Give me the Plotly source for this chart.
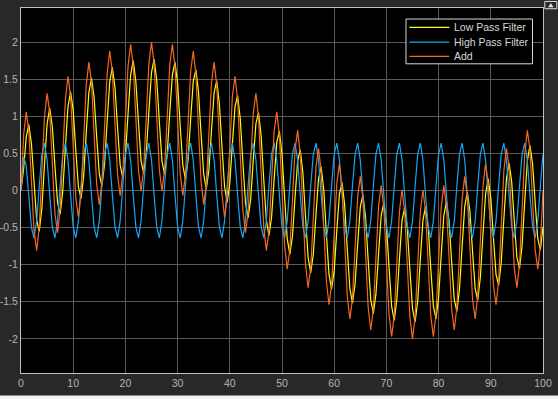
import plotly.graph_objects as go

# ---- data read from the scope (sample clock 0.5 s) ----
time_s = [i * 0.5 for i in range(201)]

low_pass = [
    0.00, 0.29, 0.72, 0.89, 0.63, 0.09, -0.40, -0.55,
    -0.24, 0.35, 0.90, 1.11, 0.86, 0.33, -0.16, -0.32,
    -0.01, 0.58, 1.13, 1.33, 1.08, 0.54, 0.05, -0.11,
    0.19, 0.78, 1.32, 1.52, 1.26, 0.72, 0.22, 0.06,
    0.35, 0.93, 1.47, 1.66, 1.39, 0.85, 0.34, 0.17,
    0.46, 1.03, 1.56, 1.75, 1.47, 0.92, 0.40, 0.23,
    0.51, 1.07, 1.59, 1.77, 1.49, 0.93, 0.40, 0.22,
    0.49, 1.05, 1.56, 1.73, 1.44, 0.87, 0.34, 0.15,
    0.41, 0.96, 1.47, 1.63, 1.33, 0.76, 0.22, 0.02,
    0.28, 0.82, 1.32, 1.48, 1.17, 0.59, 0.05, -0.16,
    0.10, 0.63, 1.13, 1.28, 0.97, 0.38, -0.16, -0.37,
    -0.12, 0.41, 0.90, 1.05, 0.74, 0.15, -0.40, -0.61,
    -0.36, 0.16, 0.65, 0.80, 0.49, -0.10, -0.65, -0.86,
    -0.62, -0.09, 0.40, 0.55, 0.24, -0.35, -0.90, -1.11,
    -0.86, -0.33, 0.16, 0.32, 0.01, -0.58, -1.13, -1.33,
    -1.08, -0.54, -0.05, 0.11, -0.19, -0.78, -1.32, -1.52,
    -1.26, -0.72, -0.22, -0.06, -0.35, -0.93, -1.47, -1.66,
    -1.39, -0.85, -0.34, -0.17, -0.46, -1.03, -1.56, -1.75,
    -1.47, -0.92, -0.40, -0.23, -0.51, -1.07, -1.59, -1.77,
    -1.49, -0.93, -0.40, -0.22, -0.49, -1.05, -1.56, -1.73,
    -1.44, -0.87, -0.34, -0.15, -0.41, -0.96, -1.47, -1.63,
    -1.33, -0.76, -0.22, -0.02, -0.28, -0.82, -1.32, -1.48,
    -1.17, -0.59, -0.05, 0.16, -0.10, -0.63, -1.13, -1.28,
    -0.97, -0.38, 0.16, 0.37, 0.12, -0.41, -0.90, -1.05,
    -0.74, -0.15, 0.40, 0.61, 0.36, -0.16, -0.65, -0.80,
    -0.49,
]

high_pass = [
    0.00, 0.45, 0.34, -0.09, -0.50, -0.64, -0.41, 0.06,
    0.49, 0.64, 0.41, -0.06, -0.49, -0.64, -0.41, 0.06,
    0.49, 0.64, 0.41, -0.06, -0.49, -0.64, -0.41, 0.06,
    0.49, 0.64, 0.41, -0.06, -0.49, -0.64, -0.41, 0.06,
    0.49, 0.64, 0.41, -0.06, -0.49, -0.64, -0.41, 0.06,
    0.49, 0.64, 0.41, -0.06, -0.49, -0.64, -0.41, 0.06,
    0.49, 0.64, 0.41, -0.06, -0.49, -0.64, -0.41, 0.06,
    0.49, 0.64, 0.41, -0.06, -0.49, -0.64, -0.41, 0.06,
    0.49, 0.64, 0.41, -0.06, -0.49, -0.64, -0.41, 0.06,
    0.49, 0.64, 0.41, -0.06, -0.49, -0.64, -0.41, 0.06,
    0.49, 0.64, 0.41, -0.06, -0.49, -0.64, -0.41, 0.06,
    0.49, 0.64, 0.41, -0.06, -0.49, -0.64, -0.41, 0.06,
    0.49, 0.64, 0.41, -0.06, -0.49, -0.64, -0.41, 0.06,
    0.49, 0.64, 0.41, -0.06, -0.49, -0.64, -0.41, 0.06,
    0.49, 0.64, 0.41, -0.06, -0.49, -0.64, -0.41, 0.06,
    0.49, 0.64, 0.41, -0.06, -0.49, -0.64, -0.41, 0.06,
    0.49, 0.64, 0.41, -0.06, -0.49, -0.64, -0.41, 0.06,
    0.49, 0.64, 0.41, -0.06, -0.49, -0.64, -0.41, 0.06,
    0.49, 0.64, 0.41, -0.06, -0.49, -0.64, -0.41, 0.06,
    0.49, 0.64, 0.41, -0.06, -0.49, -0.64, -0.41, 0.06,
    0.49, 0.64, 0.41, -0.06, -0.49, -0.64, -0.41, 0.06,
    0.49, 0.64, 0.41, -0.06, -0.49, -0.64, -0.41, 0.06,
    0.49, 0.64, 0.41, -0.06, -0.49, -0.64, -0.41, 0.06,
    0.49, 0.64, 0.41, -0.06, -0.49, -0.64, -0.41, 0.06,
    0.49, 0.64, 0.41, -0.06, -0.49, -0.64, -0.41, 0.06,
    0.49,
]

add_signal = [
    0.00, 0.74, 1.06, 0.80, 0.13, -0.55, -0.81, -0.49,
    0.25, 0.99, 1.31, 1.05, 0.37, -0.31, -0.57, -0.26,
    0.48, 1.22, 1.54, 1.27, 0.59, -0.10, -0.36, -0.05,
    0.68, 1.42, 1.73, 1.46, 0.77, 0.08, -0.19, 0.12,
    0.84, 1.57, 1.88, 1.60, 0.90, 0.21, -0.07, 0.23,
    0.95, 1.67, 1.97, 1.69, 0.98, 0.28, -0.01, 0.29,
    1.00, 1.71, 2.00, 1.71, 1.00, 0.29, -0.01, 0.28,
    0.98, 1.69, 1.97, 1.67, 0.95, 0.23, -0.07, 0.21,
    0.90, 1.60, 1.88, 1.57, 0.84, 0.12, -0.19, 0.08,
    0.77, 1.46, 1.73, 1.42, 0.68, -0.05, -0.36, -0.10,
    0.59, 1.27, 1.54, 1.22, 0.48, -0.26, -0.57, -0.31,
    0.37, 1.05, 1.31, 0.99, 0.25, -0.49, -0.81, -0.55,
    0.13, 0.80, 1.06, 0.74, 0.00, -0.74, -1.06, -0.80,
    -0.13, 0.55, 0.81, 0.49, -0.25, -0.99, -1.31, -1.05,
    -0.37, 0.31, 0.57, 0.26, -0.48, -1.22, -1.54, -1.27,
    -0.59, 0.10, 0.36, 0.05, -0.68, -1.42, -1.73, -1.46,
    -0.77, -0.08, 0.19, -0.12, -0.84, -1.57, -1.88, -1.60,
    -0.90, -0.21, 0.07, -0.23, -0.95, -1.67, -1.97, -1.69,
    -0.98, -0.28, 0.01, -0.29, -1.00, -1.71, -2.00, -1.71,
    -1.00, -0.29, 0.01, -0.28, -0.98, -1.69, -1.97, -1.67,
    -0.95, -0.23, 0.07, -0.21, -0.90, -1.60, -1.88, -1.57,
    -0.84, -0.12, 0.19, -0.08, -0.77, -1.46, -1.73, -1.42,
    -0.68, 0.05, 0.36, 0.10, -0.59, -1.27, -1.54, -1.22,
    -0.48, 0.26, 0.57, 0.31, -0.37, -1.05, -1.31, -0.99,
    -0.25, 0.49, 0.81, 0.55, -0.13, -0.80, -1.06, -0.74,
    0.00,
]

series_names = ["Low Pass Filter", "High Pass Filter", "Add"]
series_colors = ["#ffff00", "#14a5f5", "#f5661e"]
x_ticks = [0, 10, 20, 30, 40, 50, 60, 70, 80, 90, 100]
y_ticks = [-2, -1.5, -1, -0.5, 0, 0.5, 1, 1.5, 2]

FONT = "Liberation Sans, Arial, sans-serif"

fig = go.Figure()
for name, vals, col in zip(series_names, [low_pass, high_pass, add_signal], series_colors):
    fig.add_trace(go.Scatter(x=time_s, y=vals, mode="lines", name=name,
                             line=dict(color=col, width=1.2), showlegend=False))

axis_common = dict(showgrid=True, gridcolor="#5a5a5a", gridwidth=1, zeroline=False,
                   showline=True, mirror=True, linecolor="#c0c0c0", linewidth=1,
                   ticks="", automargin=False,
                   tickfont=dict(family=FONT, size=10.5, color="#b4b4b4"))

fig.update_xaxes(range=[0, 100], tickvals=x_ticks, ticktext=[str(v) for v in x_ticks], **axis_common)
fig.update_yaxes(range=[-2.46, 2.46], tickvals=y_ticks, ticktext=[f"{v:g}" for v in y_ticks], **axis_common)

# manual legend (paper coords)
shapes = [dict(type="rect", xref="paper", yref="paper", x0=0.7375, x1=0.9799, y0=0.8471, y1=0.9698,
               fillcolor="#000000", line=dict(color="#d8d8d8", width=1), layer="above")]
annotations = []
rows_y = [0.9467, 0.9066, 0.8672]
for name, col, yy in zip(series_names, series_colors, rows_y):
    shapes.append(dict(type="line", xref="paper", yref="paper", x0=0.7439, x1=0.8205, y0=yy, y1=yy,
                       line=dict(color=col, width=1.2), layer="above"))
    annotations.append(dict(xref="paper", yref="paper", x=0.8263, y=yy, text=name, showarrow=False,
                            xanchor="left", yanchor="middle",
                            font=dict(family=FONT, size=10.5, color="#d8d8d8")))

# small undock icon at top-right and bottom window strip
shapes.append(dict(type="rect", xref="paper", yref="paper", x0=1.0035, x1=1.0265, y0=0.998, y1=1.018,
                   fillcolor="#282828", line=dict(color="#e0e0e0", width=1)))
shapes.append(dict(type="path", xref="paper", yref="paper",
                   path="M 1.0105 1.0025 L 1.0150 1.0125 L 1.0195 1.0025 Z",
                   fillcolor="#e0e0e0", line=dict(color="#e0e0e0", width=0.5)))
shapes.append(dict(type="rect", xref="paper", yref="paper", x0=-0.05, x1=1.05, y0=-0.0615, y1=-0.09,
                   fillcolor="#f0f0f0", line=dict(width=0)))

fig.update_layout(width=558, height=399, margin=dict(l=21, r=15, t=8, b=26),
                  paper_bgcolor="#282828", plot_bgcolor="#000000",
                  shapes=shapes, annotations=annotations, showlegend=False)

fig.write_html("out.html")
